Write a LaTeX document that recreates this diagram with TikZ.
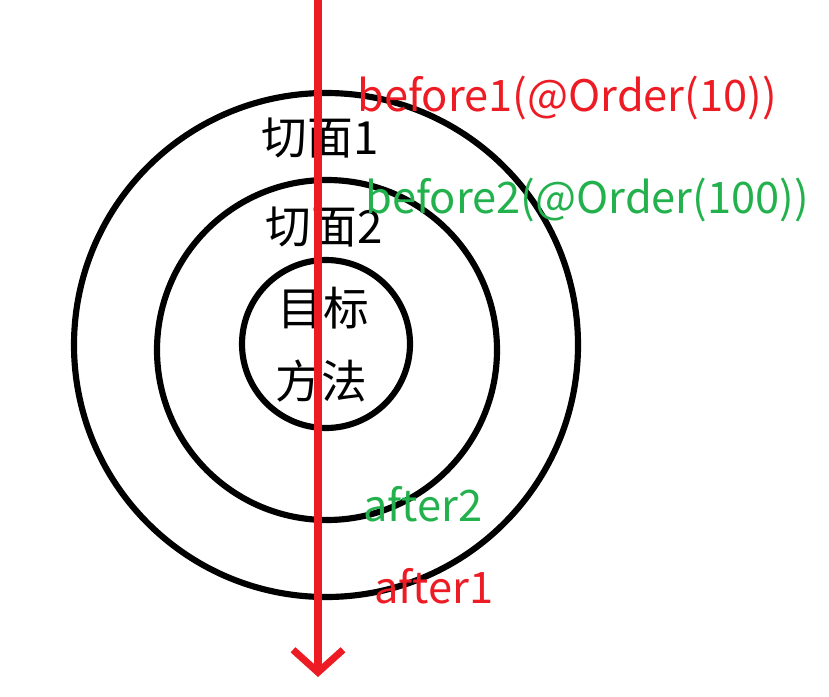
\documentclass[tikz,border=0pt]{standalone}
\usepackage{fontspec}
\setmainfont{Noto Sans CJK SC}
\usepackage{tikz}
\usetikzlibrary{arrows.meta}
\definecolor{paintred}{RGB}{237,28,36}
\definecolor{paintgreen}{RGB}{34,177,76}

\begin{document}
\begin{tikzpicture}[
        ring/.style={draw, circle, line width=3.5pt, inner sep=0pt},
        cjktext/.style={inner sep=0pt, font=\fontsize{26pt}{30pt}\selectfont},
        ordertext/.style={inner sep=0pt, anchor=base west, font=\fontsize{24.7pt}{29pt}\selectfont}
    ]
        \useasboundingbox (0,0) rectangle (16.58,-13.92);

        \node[ring, minimum size=10.08cm] (ring1) at (6.52,-6.9) {};
        \node[ring, minimum size=6.8cm] (ring2) at (6.54,-7.0) {};
        \node[ring, minimum size=3.36cm] (target) at (6.52,-6.88) {};

        \node[cjktext] (aspect1) at (6.40,-2.76) {切面1};
        \node[cjktext] (aspect2) at (6.48,-4.54) {切面2};
        \node[cjktext] (goal) at (6.46,-6.16) {目标};
        \node[cjktext] (method) at (6.42,-7.62) {方法};

        \node[ordertext, paintred] (before1) at (7.14,-2.24) {before1(@Order(10))};
        \node[ordertext, paintgreen] (before2) at (7.30,-4.26) {before2(@Order(100))};
        \node[ordertext, paintgreen] (after2) at (7.26,-10.42) {after2};
        \node[ordertext, paintred] (after1) at (7.48,-12.06) {after1};

        \coordinate (flowtop) at (6.36,0);
        \coordinate (flowend) at (6.36,-13.54);
        \draw[paintred, line width=4pt, -{Straight Barb[length=0.45cm, width=1.0cm]}] (flowtop) -- (flowend);
    \end{tikzpicture}
\end{document}
